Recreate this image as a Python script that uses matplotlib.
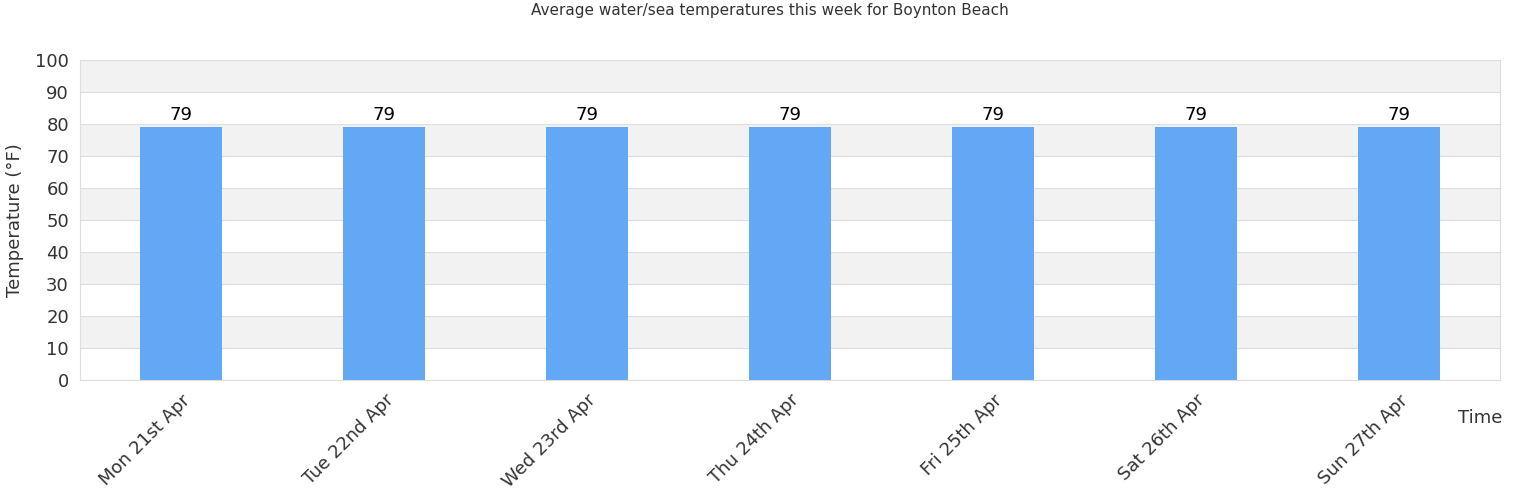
import matplotlib
matplotlib.use("Agg")
import matplotlib.pyplot as plt

categories = ["Mon 21st Apr", "Tue 22nd Apr", "Wed 23rd Apr", "Thu 24th Apr",
              "Fri 25th Apr", "Sat 26th Apr", "Sun 27th Apr"]
values = [79, 79, 79, 79, 79, 79, 79]
yticks = [0, 10, 20, 30, 40, 50, 60, 70, 80, 90, 100]

fig = plt.figure(figsize=(15.4, 5), dpi=100)
ax = fig.add_axes([80/1540, 1-380/500, 1420/1540, 320/500])
for lo in range(10, 100, 20):
    ax.axhspan(lo, lo+10, color="#f2f2f2", zorder=0, lw=0)
for y in yticks:
    ax.axhline(y, color="#dddddd", lw=0.8, zorder=0.5)
x = list(range(len(categories)))
ax.bar(x, values, width=0.404, color="#62a8f5", zorder=2)
for xi, v in zip(x, values):
    ax.text(xi, v + 1, str(v), ha="center", va="bottom", fontsize=13, color="#000000")
ax.set_xlim(-0.5, len(categories) - 0.5)
ax.set_ylim(0, 100)
ax.set_yticks(yticks)
ax.set_yticklabels([str(t) for t in yticks], fontsize=13, color="#333333")
ax.set_xticks(x)
ax.set_xticklabels(categories, rotation=45, ha="right", rotation_mode="anchor", fontsize=13, color="#333333")
ax.tick_params(length=0, pad=8)
for s in ax.spines.values():
    s.set_color("#dddddd")
    s.set_linewidth(0.8)
ax.set_ylabel("Temperature (°F)", fontsize=13, color="#333333", labelpad=8)
fig.text(1480/1540, 1-418/500, "Time", fontsize=13, color="#333333", ha="center", va="center")
fig.text(0.5, 1-11/500, "Average water/sea temperatures this week for Boynton Beach", fontsize=11, color="#333333", ha="center", va="center")
fig.savefig("out.png", dpi=100)
